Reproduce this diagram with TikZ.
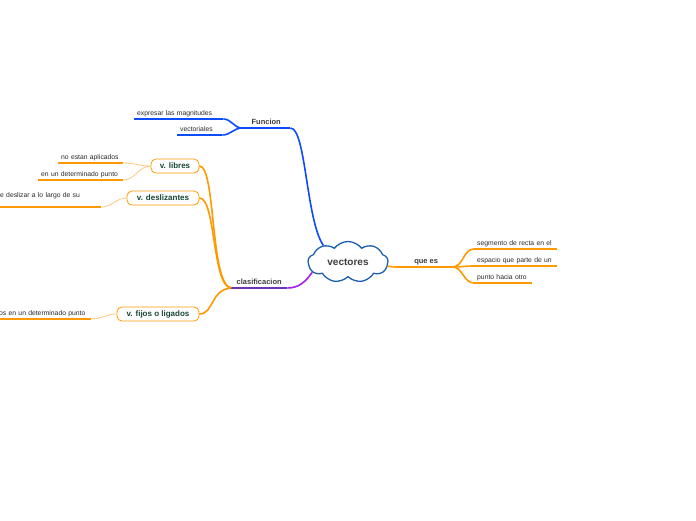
\documentclass[tikz,border=0pt]{standalone}
\usepackage{fontspec}
\setmainfont{Liberation Sans}
\usetikzlibrary{shapes.symbols,shapes}

\definecolor{cloudblue}{RGB}{28,96,172}
\definecolor{funblue}{RGB}{12,76,250}
\definecolor{mainorange}{RGB}{255,153,0}
\definecolor{paleorange}{RGB}{255,205,140}
\definecolor{clasviolet}{RGB}{112,52,178}
\definecolor{brightviolet}{RGB}{160,32,240}
\definecolor{boxgreen}{RGB}{22,70,52}
\definecolor{textgray}{RGB}{40,40,40}
\definecolor{topicgray}{RGB}{60,60,60}

\begin{document}
\begin{tikzpicture}[x=1pt,y=-1pt,
    leaf/.style={anchor=south west, inner xsep=3pt, inner ysep=2pt, text depth=1.5pt,
        align=left, text=textgray, font=\fontsize{6.8}{7}\selectfont},
    topic/.style={anchor=south west, inner xsep=0pt, inner ysep=2.5pt, text depth=1pt,
        align=center, text=topicgray, font=\bfseries\fontsize{7.5}{8}\selectfont},
    kind/.style={draw=mainorange, line width=0.8pt, rounded corners=5pt, fill=white,
        text=boxgreen, font=\bfseries\fontsize{8}{9}\selectfont, minimum height=14pt, inner xsep=2pt},
    blueline/.style={draw=funblue, line width=1.6pt},
    orangeline/.style={draw=mainorange, line width=1.6pt},
    paleline/.style={draw=paleorange, line width=0.9pt}]
        \useasboundingbox (0,0) rectangle (696,520);

        % Central cloud TextBox
        \node[cloud, cloud puffs=9, cloud puff arc=105, aspect=2.1, draw=cloudblue, line width=1.3pt, fill=white,
            minimum width=80pt, minimum height=41pt, inner sep=0pt, text=topicgray,
            font=\bfseries\fontsize{10}{11}\selectfont] (vectores) at (348,262) {vectores};

        % Funcion branch
        \node[topic, minimum width=48pt] (funcion) at (242,128) {Funcion};
        \node[leaf, text width=83pt] (magnitudes) at (134,119) {expresar las magnitudes};
        \node[leaf, text width=39pt] (vectoriales) at (177,135) {vectoriales};
        \draw[blueline] (funcion.south west) -- (funcion.south east);
        \draw[blueline] (magnitudes.south west) -- (magnitudes.south east);
        \draw[blueline] (vectoriales.south west) -- (vectoriales.south east);
        \draw[blueline] (magnitudes.south east) to[out=0,in=180] (funcion.south west);
        \draw[blueline] (vectoriales.south east) to[out=0,in=180] (funcion.south west);
        \draw[blueline] (funcion.south east) .. controls (306,128) and (306,220) .. (vectores.146);

        % que es branch
        \node[topic, minimum width=52pt] (quees) at (400,267) {que es};
        \node[leaf, text width=77pt] (segmento) at (474,249) {segmento de recta en el};
        \node[leaf, text width=77pt] (espacio) at (474,266) {espacio que parte de un};
        \node[leaf, text width=52pt] (hacia) at (474,283) {punto hacia otro};
        \draw[orangeline] (vectores.-6) to[out=-10,in=180] (quees.south west) -- (quees.south east);
        \draw[orangeline] (segmento.south west) -- (segmento.south east);
        \draw[orangeline] (espacio.south west) -- (espacio.south east);
        \draw[orangeline] (hacia.south west) -- (hacia.south east);
        \draw[orangeline] (quees.south east) to[out=0,in=180] (segmento.south west);
        \draw[orangeline] (quees.south east) to[out=0,in=180] (espacio.south west);
        \draw[orangeline] (quees.south east) to[out=0,in=180] (hacia.south west);

        % clasificacion branch
        \node[topic, minimum width=56pt] (clasificacion) at (231,288) {clasificacion};
        \draw[draw=clasviolet, line width=1.6pt] (clasificacion.south west) -- (clasificacion.south east);
        \draw[draw=brightviolet, line width=1.6pt] (clasificacion.south east) to[out=0,in=235] (vectores.196);

        % Kinds of vectores
        \node[kind, minimum width=48pt] (libres) at (175,166) {v. libres};
        \node[kind, minimum width=72pt] (deslizantes) at (163,198) {v. deslizantes};
        \node[kind, minimum width=82pt] (fijos) at (158,314) {v. fijos o ligados};
        \draw[orangeline] (libres.east) .. controls (216,166) and (210,284) .. (clasificacion.south west);
        \draw[orangeline] (deslizantes.east) .. controls (216,198) and (212,286) .. (clasificacion.south west);
        \draw[orangeline] (fijos.east) .. controls (214,314) and (210,290) .. (clasificacion.south west);

        % Leaves of the kinds
        \node[leaf, text width=59pt] (aplicados) at (58,163) {no estan aplicados};
        \node[leaf, text width=79pt] (punto) at (38,180) {en un determinado punto};
        \node[leaf, text width=98pt, inner ysep=8pt] (largo) at (-3,207) {e deslizar a lo largo de su};
        \node[leaf, text width=89pt] (ligado) at (-4,319) {os en un determinado punto};
        \draw[orangeline] (aplicados.south west) -- (aplicados.south east);
        \draw[orangeline] (punto.south west) -- (punto.south east);
        \draw[orangeline] (largo.south west) -- (largo.south east);
        \draw[orangeline] (ligado.south west) -- (ligado.south east);
        \draw[paleline] (aplicados.south east) to[out=0,in=180] (libres.west);
        \draw[paleline] (punto.south east) to[out=0,in=180] (libres.west);
        \draw[paleline] (largo.south east) to[out=0,in=180] (deslizantes.west);
        \draw[paleline] (ligado.south east) to[out=0,in=180] (fijos.west);
    \end{tikzpicture}
\end{document}
